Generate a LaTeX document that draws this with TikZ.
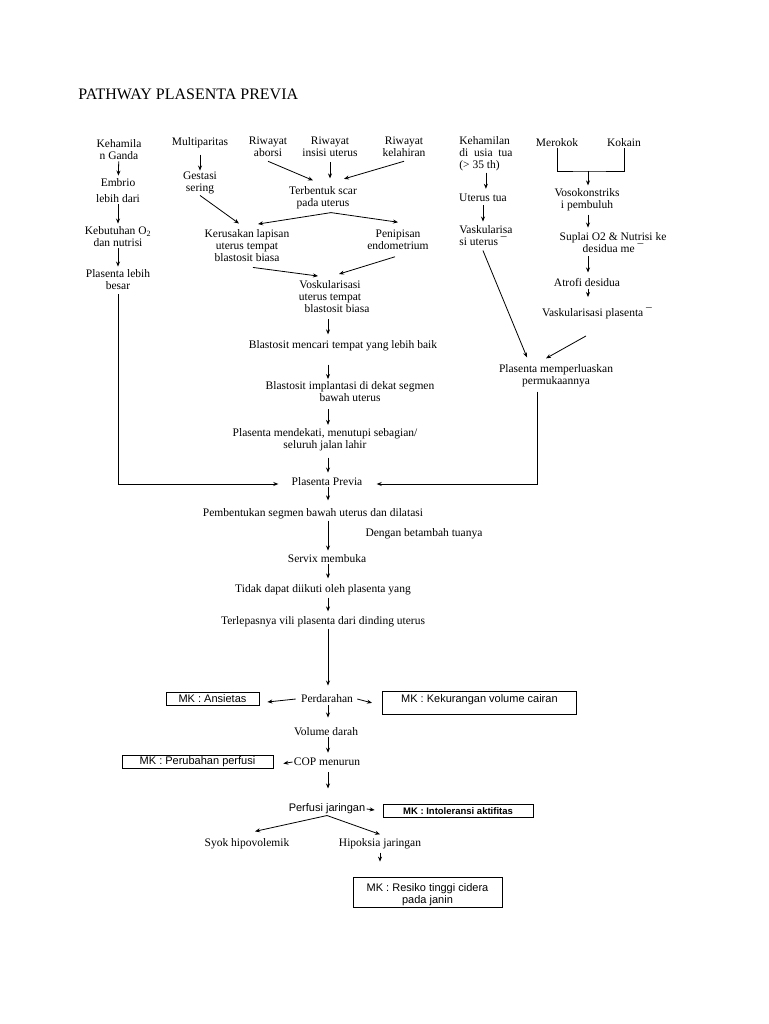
\documentclass[tikz,border=0pt]{standalone}
\usepackage{fontspec}
\setmainfont{Liberation Serif}
\setsansfont{Liberation Sans}
\usetikzlibrary{arrows.meta}
\tikzstyle{lbl}=[align=center, inner sep=1pt, font=\fontsize{11.5}{12}\selectfont]
\tikzstyle{ttl}=[inner sep=0pt, font=\fontsize{16}{18}\selectfont]
\tikzstyle{mk}=[rectangle, draw, inner sep=1.5pt, text height=8pt, text depth=2pt, font=\sffamily\fontsize{11}{12}\selectfont]
\tikzstyle{sans}=[inner sep=1pt, font=\sffamily\fontsize{11}{12}\selectfont]
\begin{document}
\begin{tikzpicture}[x=1pt, y=-1pt, line width=0.8pt, >={Stealth[length=5pt, width=4pt]}]
                    \useasboundingbox (0,0) rectangle (768,1024);
                    \node[ttl, anchor=base west] (ttl) at (78,100) {PATHWAY PLASENTA PREVIA};
                    % kolom kiri
                    \node[lbl] (kg) at (119,150) {Kehamila\\n Ganda};
                    \node[lbl] (eb) at (118,191) {Embrio\\[4pt]lebih dari};
                    \node[lbl] (kn) at (118,237) {Kebutuhan O\textsubscript{2}\\dan nutrisi};
                    \node[lbl] (pl) at (118,280) {Plasenta lebih\\besar};
                    % kolom tengah
                    \node[lbl] (mp) at (200,143) {Multiparitas};
                    \node[lbl] (gs) at (200,183) {Gestasi\\sering};
                    \node[lbl] (ra) at (268,147) {Riwayat\\aborsi};
                    \node[lbl] (ri) at (330,147) {Riwayat\\insisi uterus};
                    \node[lbl] (rk) at (404,147) {Riwayat\\kelahiran};
                    \node[lbl] (ts) at (323,198) {Terbentuk scar\\pada uterus};
                    \node[lbl] (kl) at (247,246) {Kerusakan lapisan\\uterus tempat\\blastosit biasa};
                    \node[lbl] (pe) at (398,240) {Penipisan\\endometrium};
                    \node[lbl] (vu) at (330,297) {Voskularisasi\\uterus tempat\\\hspace*{14pt}blastosit biasa};
                    \node[lbl] (bm) at (343,346) {Blastosit mencari tempat yang lebih baik};
                    \node[lbl] (bi) at (350,392) {Blastosit implantasi di dekat segmen\\bawah uterus};
                    \node[lbl] (pm) at (325,440) {Plasenta mendekati, menutupi sebagian/\\seluruh jalan lahir};
                    \node[lbl] (pp) at (327,482) {Plasenta Previa};
                    \node[lbl] (ps) at (313,514) {Pembentukan segmen bawah uterus dan dilatasi};
                    \node[lbl] (db) at (424,534) {Dengan betambah tuanya};
                    \node[lbl] (sm) at (327,559) {Servix membuka};
                    \node[lbl] (td) at (323,590) {Tidak dapat diikuti oleh plasenta yang};
                    \node[lbl] (tv) at (323,622) {Terlepasnya vili plasenta dari dinding uterus};
                    \node[lbl] (pd) at (327,699) {Perdarahan};
                    \node[lbl] (vd) at (326,732) {Volume darah};
                    \node[lbl] (cm) at (327,762) {COP menurun};
                    \node[sans] (pj) at (327,809) {Perfusi jaringan};
                    \node[lbl] (sh) at (247,844) {Syok hipovolemik};
                    \node[lbl] (hj) at (380,844) {Hipoksia jaringan};
                    % masalah keperawatan
                    \node[mk, minimum width=93pt] (ma) at (212.5,699) {MK : Ansietas};
                    \node[mk, anchor=north west, minimum width=194pt, text height=10pt, text depth=10pt] (mv) at (382,691) {MK : Kekurangan volume cairan};
                    \node[mk, minimum width=151pt] (mf) at (197.5,761.5) {MK : Perubahan perfusi};
                    \node[mk, minimum width=150pt, font=\sffamily\bfseries\fontsize{9.5}{11}\selectfont] (mi) at (458,811) {MK : Intoleransi aktifitas};
                    \node[mk, align=center, minimum width=149pt, minimum height=30pt, text height=23pt, text depth=0pt] (mr) at (427.5,892) {MK : Resiko tinggi cidera\\pada janin};
                    % kolom kanan
                    \node[lbl, align=left, anchor=west] (kt) at (458,154) {Kehamilan\\di\ \ usia\ \ tua\\(> 35 th)};
                    \node[lbl] (ut) at (483,198) {Uterus tua};
                    \node[lbl, align=left, anchor=west] (vk) at (458,236) {Vaskularisa\\si uterus ¯};
                    \node[lbl] (mrk) at (557,143) {Merokok};
                    \node[lbl] (kkn) at (624,143) {Kokain};
                    \coordinate (brk) at (588,171);
                    \node[lbl] (vp) at (587,200) {Vosokonstriks\\i pembuluh};
                    \node[lbl] (so) at (613,243) {Suplai O2 \& Nutrisi ke\\desidua me ¯};
                    \node[lbl] (ad) at (587,283) {Atrofi desidua};
                    \node[lbl] (vpl) at (597,313) {Vaskularisasi plasenta ¯};
                    \node[lbl] (pmp) at (556,376) {Plasenta memperluaskan\\permukaannya};
                    \coordinate (sp) at (328,0);
                    % panah kiri
                    \draw[->, shorten >=2pt]  (kg) -- (eb);
                    \draw[->, shorten >=2pt]  (eb) -- (kn);
                    \draw[->, shorten >=2pt]  (kn) -- (pl);
                    \draw[->, shorten <=3pt, shorten >=12pt]  (pl.south) |- ([yshift=-2pt]pp.west);
                    % panah tengah atas
                    \draw[->, shorten <=5pt]  (mp) -- (gs);
                    \draw[->]  (gs.south) -- ([xshift=-8pt,yshift=5pt]kl.north);
                    \draw[->]  ([yshift=-3pt]ra.south) -- ([xshift=-10pt,yshift=5pt]ts.north);
                    \draw[->, shorten <=4pt, shorten >=7pt]  (ri.south) -- (ri.south |- ts.north);
                    \draw[->]  ([yshift=-3pt]rk.south) -- ([xshift=21pt,yshift=6.5pt]ts.north);
                    \draw[->]  ([xshift=8pt,yshift=-2pt]ts.south) -- ([xshift=11pt,yshift=4.5pt]kl.north);
                    \draw[->]  ([xshift=8pt,yshift=-2pt]ts.south) -- ([yshift=6.5pt]pe.north);
                    \draw[->]  ([xshift=6pt,yshift=-4pt]kl.south) -- ([xshift=-12pt,yshift=3.5pt]vu.north);
                    \draw[->]  ([xshift=-3pt,yshift=-5.5pt]pe.south) -- ([xshift=9pt,yshift=5.5pt]vu.north);
                    % panah utama
                    \draw[->, shorten <=5pt, shorten >=5pt]  (vu.south -| sp) -- (bm.north -| sp);
                    \draw[->, shorten <=12pt, shorten >=1.5pt]  (bm.south -| sp) -- (bi.north -| sp);
                    \draw[->, shorten <=6pt, shorten >=2.5pt]  (bi.south -| sp) -- (pm.north -| sp);
                    \draw[->, shorten <=5pt, shorten >=4pt]  (pm.south -| sp) -- (pp.north -| sp);
                    \draw[->, shorten >=7pt]  (pp.south -| sp) -- (ps.north -| sp);
                    \draw[->, shorten >=3pt]  (ps.south -| sp) -- (sm.north -| sp);
                    \draw[->, shorten >=5pt]  (sm.south -| sp) -- (td.north -| sp);
                    \draw[->, shorten <=1pt, shorten >=4pt]  (td.south -| sp) -- (tv.north -| sp);
                    \draw[->, shorten >=8pt]  (tv.south -| sp) -- (pd.north -| sp);
                    \draw[->, shorten <=1pt, shorten >=9pt]  (pd.south -| sp) -- (vd.north -| sp);
                    \draw[->, shorten >=4pt]  (vd.south -| sp) -- (cm.north -| sp);
                    \draw[->, shorten <=5pt, shorten >=14pt]  (cm.south -| sp) -- (pj.north -| sp);
                    % panah bawah
                    \draw[->]  ([xshift=-4pt]pd.west) -- ([xshift=8pt,yshift=-3pt]ma.east);
                    \draw[->]  ([xshift=3pt]pd.east) -- ([xshift=-10pt]mv.west);
                    \draw[->]  (cm.west) -- ([xshift=10pt,yshift=-2pt]mf.east);
                    \draw[->, shorten >=8pt]  (pj.east) -- (mi.west);
                    \draw[->]  (pj.south) -- ([xshift=8pt,yshift=6pt]sh.north);
                    \draw[->]  (pj.south) -- ([yshift=3pt]hj.north);
                    \draw[->, shorten <=2pt, shorten >=15pt]  (hj) -- (hj |- mr.north);
                    % panah kanan
                    \draw[->, shorten >=4pt]  (kt.south) -- (kt.south |- ut.north);
                    \draw[->, shorten <=2pt, shorten >=3pt]  (ut) -- (ut |- vk.north);
                    \draw
                        (mrk.south) |- (brk) -| (kkn.south)
                    ;
                    \draw[->, shorten >=2pt]  (brk) -- (brk |- vp.north);
                    \draw[->, shorten <=2pt, shorten >=4pt]  (vp.south -| brk) -- (so.north -| brk);
                    \draw[->, shorten <=2pt, shorten >=5pt]  (so.south -| brk) -- (ad.north -| brk);
                    \draw[->, shorten >=9pt]  (ad.south -| brk) -- (vpl.north -| brk);
                    \draw[->]  ([xshift=-11pt,yshift=-16pt]vpl.south) -- ([xshift=-10pt,yshift=5pt]pmp.north);
                    \draw[->]  ([xshift=-3pt,yshift=-3pt]vk.south) -- ([xshift=-29pt,yshift=6pt]pmp.north);
                    \draw[->, shorten >=13pt]  ([xshift=-19pt,yshift=-3pt]pmp.south) |- ([yshift=-2pt]pp.east);
                \end{tikzpicture}
\end{document}
